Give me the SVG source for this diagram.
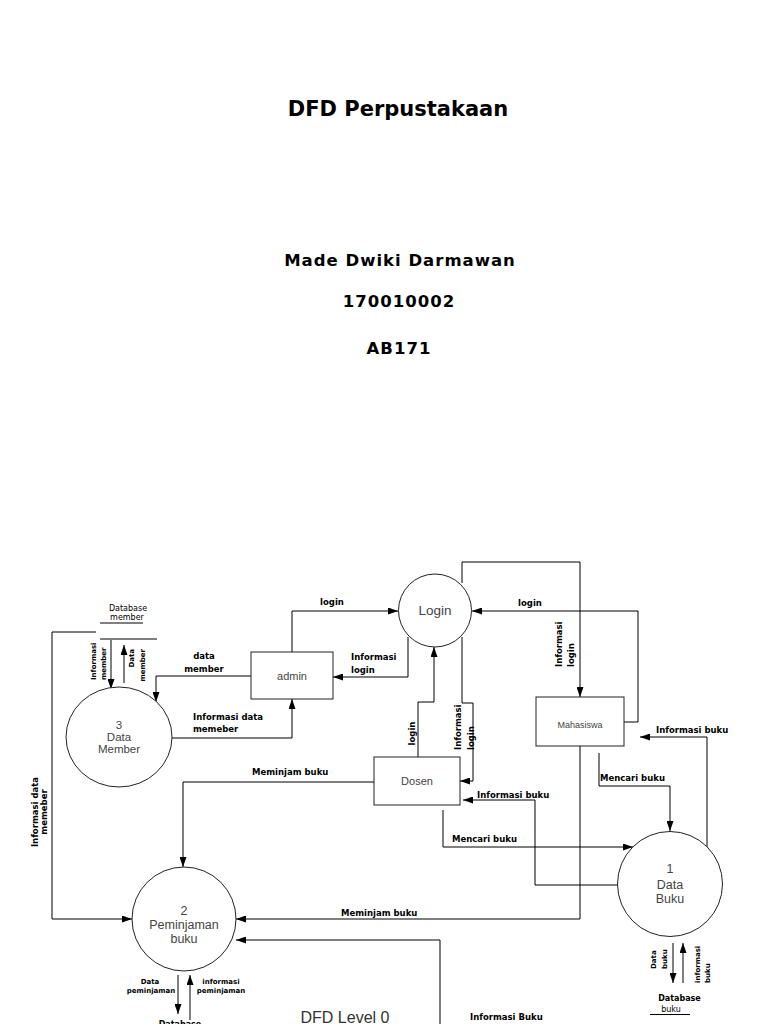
<svg xmlns="http://www.w3.org/2000/svg" width="768" height="1024" viewBox="0 0 768 1024">
<style>
.hd{font-family:"DejaVu Sans",sans-serif;font-weight:bold;fill:#000;text-anchor:middle}
.lb{font-family:"DejaVu Sans",sans-serif;font-weight:bold;font-size:8.5px;fill:#000}
.sm{font-family:"DejaVu Sans",sans-serif;font-weight:bold;font-size:7px;fill:#000}
.db{font-family:"DejaVu Sans",sans-serif;font-size:8px;fill:#000;text-anchor:middle}
.nt{font-family:"Liberation Sans",Arial,sans-serif;fill:#444;text-anchor:middle}
.shape{fill:#fff;stroke:#222;stroke-width:1}
.ln{fill:none;stroke:#000;stroke-width:1}
.ar{marker-end:url(#a)}
</style>
<defs>
<marker id="a" markerWidth="10" markerHeight="7" refX="10" refY="3.5" orient="auto" markerUnits="userSpaceOnUse"><path d="M0,0 L10,3.5 L0,7 z" fill="#000"/></marker>
</defs>
<rect width="768" height="1024" fill="#fff"/>
<g id="header">
<text class="hd" x="398" y="116" font-size="21">DFD Perpustakaan</text>
<text class="hd" x="400" y="266" font-size="16.5" letter-spacing="1">Made Dwiki Darmawan</text>
<text class="hd" x="399" y="307" font-size="16.5" letter-spacing="1">170010002</text>
<text class="hd" x="399" y="354" font-size="16.5" letter-spacing="1">AB171</text>
</g>
<g id="connectors">
<path class="ln ar" d="M292,652 V611 H398"/>
<path class="ln ar" d="M408,637 V677 H333"/>
<path class="ln ar" d="M418,757 V702 H434 V647"/>
<path class="ln ar" d="M462,637 V703 H473 V781 H460"/>
<path class="ln ar" d="M462,583 V562 H580 V697"/>
<path class="ln ar" d="M624,722 H638 V611 H472"/>
<path class="ln ar" d="M707,847 V737 H640"/>
<path class="ln ar" d="M599,753 V786 H670 V831"/>
<path class="ln ar" d="M443,810 V847 H633"/>
<path class="ln ar" d="M618,885 H535 V800 H463"/>
<path class="ln ar" d="M580,746 V919 H236"/>
<path class="ln ar" d="M374,782 H183 V867"/>
<path class="ln ar" d="M440,1024 V940 H236"/>
<path class="ln ar" d="M251,676 H156 V702"/>
<path class="ln ar" d="M172,738 H292 V699"/>
<path class="ln ar" d="M96,632 H52 V919 H132"/>
<path class="ln ar" d="M111,640 V689"/>
<path class="ln ar" d="M124,683 V645"/>
<path class="ln ar" d="M178,975 V1014"/>
<path class="ln ar" d="M190,1020 V975"/>
<path class="ln ar" d="M673,943 V983"/>
<path class="ln ar" d="M683,983 V943"/>
</g>
<g id="labels">
<text class="lb" x="332" y="605" text-anchor="middle">login</text>
<text class="lb" x="530" y="606" text-anchor="middle">login</text>
<text class="lb" x="351" y="660">Informasi</text>
<text class="lb" x="351" y="673">login</text>
<text class="lb" x="204" y="659" text-anchor="middle">data</text>
<text class="lb" x="204" y="672" text-anchor="middle">member</text>
<text class="lb" x="193" y="719.5">Informasi data</text>
<text class="lb" x="193" y="732">memeber</text>
<text class="lb" x="252" y="775">Meminjam buku</text>
<text class="lb" x="477" y="798">Informasi buku</text>
<text class="lb" x="656" y="733">Informasi buku</text>
<text class="lb" x="600" y="780.5">Mencari buku</text>
<text class="lb" x="452" y="841.5">Mencari buku</text>
<text class="lb" x="341" y="915.5">Meminjam buku</text>
<text class="lb" x="470" y="1020">Informasi Buku</text>
<text class="lb" transform="translate(415,733.5) rotate(-90)" text-anchor="middle">login</text>
<text class="lb" transform="translate(461,750) rotate(-90)">Informasi</text>
<text class="lb" transform="translate(474,750) rotate(-90)">login</text>
<text class="lb" transform="translate(562,667) rotate(-90)">Informasi</text>
<text class="lb" transform="translate(574,667) rotate(-90)">login</text>
<text class="lb" transform="translate(38,812) rotate(-90)" text-anchor="middle">Informasi data</text>
<text class="lb" transform="translate(47,812) rotate(-90)" text-anchor="middle">memeber</text>
<text class="sm" transform="translate(96,680) rotate(-90)">Informasi</text>
<text class="sm" transform="translate(106,680) rotate(-90)">member</text>
<text class="sm" transform="translate(134,649) rotate(-90)" text-anchor="end">Data</text>
<text class="sm" transform="translate(145,649) rotate(-90)" text-anchor="end">member</text>
<text class="sm" x="150" y="984" text-anchor="middle">Data</text>
<text class="sm" x="151" y="993" text-anchor="middle">peminjaman</text>
<text class="sm" x="221" y="984" text-anchor="middle">informasi</text>
<text class="sm" x="221" y="993" text-anchor="middle">peminjaman</text>
<text class="sm" transform="translate(656,969) rotate(-90)">Data</text>
<text class="sm" transform="translate(667,969) rotate(-90)">buku</text>
<text class="sm" transform="translate(700,983) rotate(-90)">informasi</text>
<text class="sm" transform="translate(710,983) rotate(-90)">buku</text>
<text x="345" y="1023" font-family="Liberation Sans, Arial, sans-serif" font-size="16" fill="#333" text-anchor="middle">DFD Level 0</text>
</g>
<g id="login">
<circle class="shape" cx="435" cy="610.5" r="36.5"/>
<text class="nt" x="435" y="615" font-size="13.5" fill="#555">Login</text>
</g>
<g id="admin">
<rect class="shape" x="251" y="652" width="82" height="47"/>
<text class="nt" x="292" y="680" font-size="11">admin</text>
</g>
<g id="dosen">
<rect class="shape" x="374" y="757" width="86" height="48"/>
<text class="nt" x="417" y="785" font-size="11">Dosen</text>
</g>
<g id="mahasiswa">
<rect class="shape" x="536" y="697" width="88" height="49"/>
<text class="nt" x="580" y="728" font-size="9" fill="#555">Mahasiswa</text>
</g>
<g id="data-member">
<ellipse class="shape" cx="119" cy="737" rx="53" ry="50"/>
<text class="nt" x="119" y="729" font-size="11.5">3</text>
<text class="nt" x="119" y="741" font-size="11.5">Data</text>
<text class="nt" x="119" y="753" font-size="11.5">Member</text>
</g>
<g id="peminjaman">
<circle class="shape" cx="184" cy="919" r="52"/>
<text class="nt" x="184" y="915" font-size="12.5">2</text>
<text class="nt" x="184" y="929" font-size="12.5">Peminjaman</text>
<text class="nt" x="184" y="943" font-size="12.5">buku</text>
</g>
<g id="data-buku">
<circle class="shape" cx="670" cy="884" r="52.5"/>
<text class="nt" x="670" y="873" font-size="12.5">1</text>
<text class="nt" x="670" y="889" font-size="12.5">Data</text>
<text class="nt" x="670" y="903" font-size="12.5">Buku</text>
</g>
<g id="db-member">
<text class="db" x="128" y="610.5">Database</text>
<text class="db" x="127" y="620">member</text>
<line class="ln" x1="100" y1="623" x2="143" y2="623"/>
<line class="ln" x1="100" y1="639" x2="157" y2="639"/>
</g>
<g id="db-peminjaman">
<text class="db" x="180" y="1027" font-weight="bold" font-size="7.5">Database</text>
</g>
<g id="db-buku">
<text class="db" x="679.5" y="1001" font-weight="bold" font-size="7.5">Database</text>
<text class="db" x="671" y="1012">buku</text>
<line class="ln" x1="650" y1="1014.5" x2="690" y2="1014.5"/>
</g>
</svg>
